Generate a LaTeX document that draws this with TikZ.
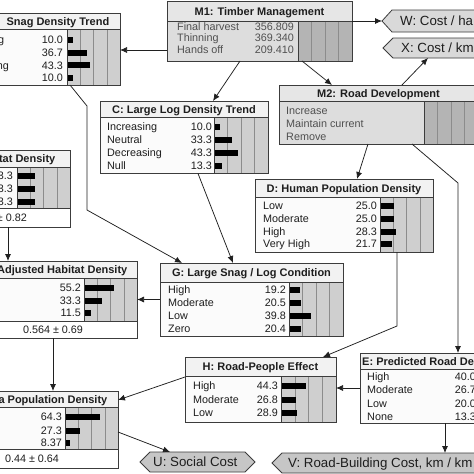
\documentclass[tikz,border=0pt]{standalone}
\usepackage{fontspec}
\setmainfont{Liberation Sans}
\usetikzlibrary{arrows.meta,calc}
\definecolor{frameC}{HTML}{3C3C3C}
\definecolor{gridC}{HTML}{8C8C8C}
\definecolor{natTitle}{HTML}{F2F2F2}
\definecolor{natBody}{HTML}{FBFBFB}
\definecolor{natBar}{HTML}{CFCFCF}
\definecolor{decTitle}{HTML}{E6E6E6}
\definecolor{decBody}{HTML}{DDDDDD}
\definecolor{decBar}{HTML}{B4B4B4}
\definecolor{utilLight}{HTML}{D9D9D9}
\definecolor{utilDark}{HTML}{C6C6C6}
\definecolor{txtC}{HTML}{1E1E1E}
\definecolor{decTxt}{HTML}{505050}
\definecolor{lineC}{HTML}{202020}

\tikzset{
 bnframe/.style={draw=frameC, line width=0.8pt},
 bnsep/.style={draw=frameC, line width=0.6pt},
 bngrid/.style={draw=gridC, line width=0.5pt},
 rowtext/.style={inner sep=0pt, text=bnTxt, font=\fontsize{10.8}{12}\selectfont},
 titletext/.style={inner sep=0pt, text=txtC, font=\bfseries\fontsize{11}{13}\selectfont},
 meantext/.style={inner sep=0pt, text=txtC, font=\fontsize{10.8}{12}\selectfont},
 utiltext/.style={inner sep=0pt, text=txtC, font=\fontsize{13.3}{15}\selectfont},
 utilshape/.style={draw=frameC, line width=0.8pt},
 utilbox/.style={inner sep=0pt, outer sep=0pt, draw=none},
 link/.style={draw=lineC, line width=0.75pt, -{Latex[length=7pt,width=6pt]}},
}

\newcommand\BNcolors[4]{\colorlet{bnTitle}{#1}\colorlet{bnBody}{#2}\colorlet{bnBar}{#3}\colorlet{bnTxt}{#4}}

% #1 name #2 left #3 top #4 right #5 title bottom #6 body bottom #7 bar start #8 bottom
\newcommand\BNbox[8]{%
 \def\curBS{#7}%
 \pgfmathsetmacro\curBW{(#4)-(#7)}%
 \fill[bnTitle] (#2,#3) rectangle (#4,#5);
 \fill[bnBody] (#2,#5) rectangle (#7,#6);
 \fill[bnBar] (#7,#5) rectangle (#4,#6);
 \fill[white] (#2,#6) rectangle (#4,#8);
 \foreach \f in {0.25,0.5,0.75}{\draw[bngrid] ({#7+\f*\curBW},#5) -- ({#7+\f*\curBW},#6);}
 \draw[bnsep] (#2,#5) -- (#4,#5) (#7,#5) -- (#7,#6) (#2,#6) -- (#4,#6);
 \node[bnframe, inner sep=0pt, outer sep=0pt, minimum width={(#4)-(#2)}, minimum height={(#8)-(#3)}, anchor=north west] (#1) at (#2,#3) {};
}
% #1 name #2 label x #3 label #4 value x #5 value #6 row y #7 percent
\newcommand\BNrow[7]{%
 \node[rowtext, anchor=base west] (#1l) at (#2,{#6+3.9}) {#3};
 \node[rowtext, anchor=base east] (#1v) at (#4,{#6+3.9}) {#5};
 \fill[black] ({\curBS+0.5},{#6-3}) rectangle ({\curBS+0.5+#7*\curBW/100},{#6+3});
}
% value and bar only
\newcommand\BNval[4]{%
 \node[rowtext, anchor=base east] (#1v) at (#2,{#3+3.9}) {#4};
 \fill[black] ({\curBS+0.5},{#3-3}) rectangle ({\curBS+0.5+#4*\curBW/100},{#3+3});
}
% label only
\newcommand\BNlab[4]{%
 \node[rowtext, anchor=base west] (#1l) at (#2,{#4+3.9}) {#3};
}
% utility: #1 name #2 left corner x #3 right corner x #4 top #5 bottom #6 fill #7 text x #8 text
\newcommand\BNutil[8]{%
 \node[utilbox, minimum width={(#3)-(#2)}, minimum height={(#5)-(#4)}, anchor=north west] (#1) at (#2,#4) {};
 \filldraw[utilshape, fill=#6] (#1.north west) -- (#1.north east) -- ([xshift=10pt]#1.east) -- (#1.south east) -- (#1.south west) -- ([xshift=-10pt]#1.west) -- cycle;
 \node[utiltext, anchor=base west] (#1t) at (#7,{(#4+#5)/2+4.8}) {#8};
}

\begin{document}
\begin{tikzpicture}[x=1pt,y=-1pt]
\useasboundingbox (0,0) rectangle (474,474);
\clip (0,0) rectangle (474,474);
\fill[white] (0,0) rectangle (474,474);

% ---------- decision nodes
\BNcolors{decTitle}{decBody}{decBar}{decTxt}
\BNbox{M1}{167}{1}{352}{21.5}{61}{298}{61}
\node[titletext, anchor=base] (M1t) at (259.5,15.6) {M1: Timber Management};
\BNlab{M1a}{177}{Final harvest}{26.7}
\BNlab{M1b}{177}{Thinning}{37.8}
\BNlab{M1c}{177}{Hands off}{49.3}
\node[rowtext, anchor=base east] (M1av) at (294,30.6) {356.809};
\node[rowtext, anchor=base east] (M1bv) at (294,41.7) {369.340};
\node[rowtext, anchor=base east] (M1cv) at (294,53.2) {209.410};

\BNbox{M2}{279}{85}{478}{101}{144}{424}{144}
\node[titletext, anchor=base] (M2t) at (378.5,97) {M2: Road Development};
\BNlab{M2a}{286}{Increase}{111}
\BNlab{M2b}{286}{Maintain current}{124}
\BNlab{M2c}{286}{Remove}{137}

% ---------- nature nodes
\BNcolors{natTitle}{natBody}{natBar}{txtC}
\BNbox{B}{-55}{13}{120}{29}{85}{67}{85}
\node[titletext, anchor=base east] (Bt) at (109.5,25) {Snag Density Trend};
\BNlab{B1}{-46}{Increasing}{40}
\BNlab{B3}{-46}{Decreasing}{65.3}
\BNval{B1}{63}{40}{10.0}
\BNval{B2}{63}{52.7}{36.7}
\BNval{B3}{63}{65.3}{43.3}
\BNval{B4}{63}{78}{10.0}

\BNbox{C}{100}{101}{268}{117.5}{173.5}{214}{173.5}
\node[titletext, anchor=base] (Ct) at (184,113.5) {C: Large Log Density Trend};
\BNrow{C1}{107}{Increasing}{212}{10.0}{127}{10.0}
\BNrow{C2}{107}{Neutral}{212}{33.3}{140}{33.3}
\BNrow{C3}{107}{Decreasing}{212}{43.3}{153}{43.3}
\BNrow{C4}{107}{Null}{212}{13.3}{166}{13.3}

\BNbox{A}{-54}{150}{70}{167}{208}{17}{227}
\node[titletext, anchor=base east] (At) at (55.5,162.5) {A: Habitat Density};
\BNval{A1}{13}{175.5}{33.3}
\BNval{A2}{13}{189}{33.3}
\BNval{A3}{13}{202}{33.3}
\node[meantext, anchor=base east] (Am) at (27,221.5) {0 ± 0.82};

\BNbox{D}{255}{179}{433}{197}{252}{380}{252}
\node[titletext, anchor=base] (Dt) at (344,192) {D: Human Population Density};
\BNrow{D1}{263}{Low}{377}{25.0}{206}{25.0}
\BNrow{D2}{263}{Moderate}{377}{25.0}{218.7}{25.0}
\BNrow{D3}{263}{High}{377}{28.3}{231.5}{28.3}
\BNrow{D4}{263}{Very High}{377}{21.7}{244}{21.7}

\BNbox{F}{-31}{261}{137}{278}{321}{84}{338}
\node[titletext, anchor=base east] (Ft) at (127.5,273.5) {F: Adjusted Habitat Density};
\BNval{F1}{81}{288}{55.2}
\BNval{F2}{81}{301}{33.3}
\BNval{F3}{81}{313}{11.5}
\node[meantext, anchor=base] (Fm) at (53,333.5) {0.564 ± 0.69};

\BNbox{G}{160}{263}{343}{282}{336}{289}{336}
\node[titletext, anchor=base] (Gt) at (251.5,276.5) {G: Large Snag / Log Condition};
\BNrow{G1}{168}{High}{286}{19.2}{290}{19.2}
\BNrow{G2}{168}{Moderate}{286}{20.5}{303}{20.5}
\BNrow{G3}{168}{Low}{286}{39.8}{316}{39.8}
\BNrow{G4}{168}{Zero}{286}{20.4}{329}{20.4}

\BNbox{H}{185}{357}{336}{376}{422}{281}{422}
\node[titletext, anchor=base] (Ht) at (260.5,370.5) {H: Road-People Effect};
\BNrow{H1}{193}{High}{278}{44.3}{386}{44.3}
\BNrow{H2}{193}{Moderate}{278}{26.8}{399.5}{26.8}
\BNrow{H3}{193}{Low}{278}{28.9}{413}{28.9}

\BNbox{E}{360}{353}{540}{369}{423}{480}{423}
\node[titletext, anchor=base west] (Et) at (362,365) {E: Predicted Road Density};
\BNrow{E1}{367}{High}{476}{40.0}{377}{40.0}
\BNrow{E2}{367}{Moderate}{476}{26.7}{390}{26.7}
\BNrow{E3}{367}{Low}{476}{20.0}{403.5}{20.0}
\BNrow{E4}{367}{None}{476}{13.3}{417}{13.3}

\BNbox{I}{-60}{391}{118}{407}{449}{65}{468}
\node[titletext, anchor=base east] (It) at (107.5,403) {Fauna Population Density};
\BNval{I1}{62}{417}{64.3}
\BNval{I2}{62}{430.5}{27.3}
\BNval{I3}{62}{443}{8.37}
\node[meantext, anchor=base] (Im) at (32,462.5) {0.44 ± 0.64};

% ---------- utility nodes
\BNutil{W}{392}{480}{10}{32}{utilLight}{400}{W: Cost / ha}
\BNutil{X}{393}{480}{38}{58}{utilLight}{401}{X: Cost / km}
\BNutil{U}{150}{245}{452}{472}{utilDark}{153}{U: Social Cost}
\BNutil{V}{282}{480}{453}{473}{utilDark}{288}{V: Road-Building Cost, km / km}

% ---------- links
\coordinate (bME) at (458,183);
\coordinate (bBG1) at (87,106);
\coordinate (bBG2) at (87,210);
\coordinate (bDH) at (397,326);
\draw[link] ([yshift=-19pt]M1.west) -- ([yshift=-1pt]B.east);
\draw[link] ([yshift=10pt]M1.east) -- ([xshift=-10pt]W.west);
\draw[link] ([xshift=-19.5pt]M1.south) -- ([xshift=29pt]C.north);
\draw[link] ([xshift=42.5pt]M1.south) -- ([xshift=-46.5pt]M2.north);
\draw[link] ([xshift=23.5pt]M2.north) -- ([xshift=-8.5pt]X.south);
\draw[link] ([xshift=-10.5pt]M2.south) -- ([xshift=13pt]D.north);
\draw[link] ([xshift=33.5pt]M2.south) -- (bME) -- (bME |- E.north);
\draw[link] ([xshift=14pt]C.south) -- ([xshift=-18.5pt]G.north);
\draw[link] ([xshift=37.5pt]B.south) -- (bBG1) -- (bBG2) -- ([xshift=-69.5pt]G.north);
\draw[link] (A.south) -- (A.south |- F.north);
\draw[link] (G.west) -- (G.west -| F.east);
\draw[link] (F.south) -- (F.south |- I.north);
\draw[link] ([yshift=12.5pt]H.west) -- ([yshift=29.5pt]I.east);
\draw[link] ([yshift=-2.5pt]I.east) -- ([xshift=-27.5pt]U.north);
\draw[link] (E.west) -- (E.west -| H.east);
\draw[link] ([xshift=-5pt]E.south) -- ([xshift=-5pt]E.south |- V.north);
\draw[link] (bDH |- D.south) -- (bDH) -- ([xshift=62.5pt]H.north);
\end{tikzpicture}
\end{document}
